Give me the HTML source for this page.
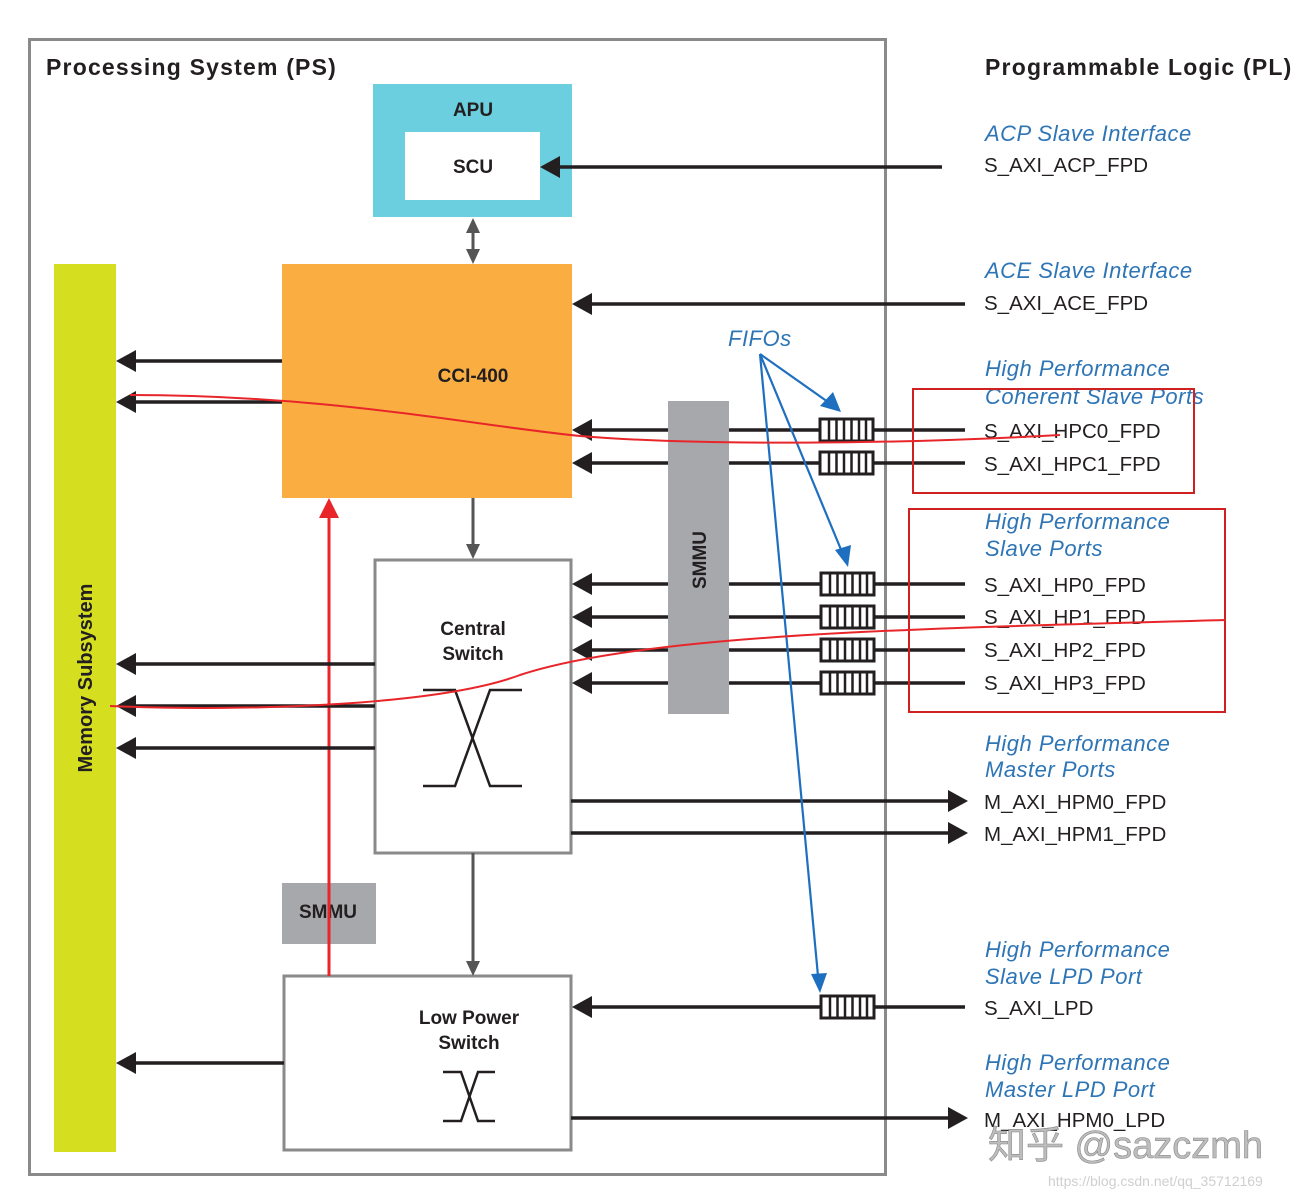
<!DOCTYPE html>
<html><head><meta charset="utf-8"><style>
html,body{margin:0;padding:0;background:#fff;}
svg{display:block;}
text{font-family:"Liberation Sans",Arial,sans-serif;}
.b{font-weight:bold;fill:#231f20;}
.t{font-weight:bold;fill:#231f20;font-size:23px;letter-spacing:1.2px;}
.bl{font-style:italic;fill:#2e75b6;font-size:22px;letter-spacing:0.5px;}
.k{fill:#231f20;font-size:20.5px;}
</style></head><body>
<svg width="1301" height="1198" viewBox="0 0 1301 1198" xmlns="http://www.w3.org/2000/svg">
<defs>
<g id="fifo">
<rect x="0" y="-11" width="53" height="22" fill="#fff" stroke="#231f20" stroke-width="3"/>
<g stroke="#231f20" stroke-width="2.5"><line x1="9" y1="-11" x2="9" y2="11"/><line x1="16.5" y1="-11" x2="16.5" y2="11"/><line x1="24" y1="-11" x2="24" y2="11"/><line x1="31.5" y1="-11" x2="31.5" y2="11"/><line x1="39" y1="-11" x2="39" y2="11"/><line x1="46" y1="-11" x2="46" y2="11"/></g>
</g>
<g id="al"><polygon points="0,0 20,-11 20,11" fill="#231f20"/></g>
<g id="ar"><polygon points="0,0 -20,-11 -20,11" fill="#231f20"/></g>
</defs>
<rect x="29.5" y="39.5" width="856" height="1135" fill="#fff" stroke="#8a8a8a" stroke-width="3"/>
<text x="46" y="75" class="t">Processing System (PS)</text>
<text x="985" y="75" class="t">Programmable Logic (PL)</text>

<rect x="373" y="84" width="199" height="133" fill="#6ccfdf"/>
<text x="473" y="116" class="b" font-size="19" text-anchor="middle">APU</text>
<rect x="405" y="132" width="135" height="68" fill="#fff"/>
<text x="473" y="173" class="b" font-size="19" text-anchor="middle">SCU</text>

<rect x="54" y="264" width="62" height="888" fill="#d5df1f"/>
<text transform="translate(92,678) rotate(-90)" class="b" font-size="20" text-anchor="middle">Memory Subsystem</text>

<rect x="282" y="264" width="290" height="234" fill="#faae42"/>
<text x="473" y="382" class="b" font-size="19" text-anchor="middle">CCI-400</text>

<line x1="473" y1="232" x2="473" y2="250" stroke="#555" stroke-width="3"/>
<polygon points="473,218 466,233 480,233" fill="#555"/>
<polygon points="473,264 466,249 480,249" fill="#555"/>

<rect x="668" y="401" width="61" height="313" fill="#a7a8ab"/>
<text transform="translate(706,560) rotate(-90)" class="b" font-size="19" text-anchor="middle">SMMU</text>

<rect x="375" y="560" width="196" height="293" fill="#fff" stroke="#8a8a8a" stroke-width="3"/>
<text x="473" y="635" class="b" font-size="19" text-anchor="middle">Central</text>
<text x="473" y="660" class="b" font-size="19" text-anchor="middle">Switch</text>
<g stroke="#231f20" stroke-width="2.5" fill="none">
<polyline points="423,690 455,690 490,786 522,786"/>
<polyline points="423,786 455,786 490,690 522,690"/>
</g>

<rect x="284" y="976" width="287" height="174" fill="#fff" stroke="#8a8a8a" stroke-width="3"/>
<text x="469" y="1024" class="b" font-size="19" text-anchor="middle">Low Power</text>
<text x="469" y="1049" class="b" font-size="19" text-anchor="middle">Switch</text>
<g stroke="#231f20" stroke-width="2.5" fill="none">
<polyline points="443,1072 461,1072 478,1121 495,1121"/>
<polyline points="443,1121 461,1121 478,1072 495,1072"/>
</g>

<rect x="282" y="883" width="94" height="61" fill="#a7a8ab"/>
<text x="328" y="918" class="b" font-size="19" text-anchor="middle">SMMU</text>

<line x1="473" y1="498" x2="473" y2="545" stroke="#555" stroke-width="3"/>
<polygon points="473,559 466,544 480,544" fill="#555"/>
<line x1="473" y1="853" x2="473" y2="962" stroke="#555" stroke-width="3"/>
<polygon points="473,976 466,961 480,961" fill="#555"/>

<line x1="329" y1="976" x2="329" y2="515" stroke="#e8262a" stroke-width="3"/>
<polygon points="329,498 319,518 339,518" fill="#e8262a"/>

<g stroke="#231f20" stroke-width="3.5">
<line x1="555" y1="167" x2="942" y2="167"/>
<line x1="590" y1="304" x2="965" y2="304"/>
<line x1="590" y1="430" x2="668" y2="430"/><line x1="729" y1="430" x2="965" y2="430"/>
<line x1="590" y1="463" x2="668" y2="463"/><line x1="729" y1="463" x2="965" y2="463"/>
<line x1="590" y1="584" x2="668" y2="584"/><line x1="729" y1="584" x2="965" y2="584"/>
<line x1="590" y1="617" x2="668" y2="617"/><line x1="729" y1="617" x2="965" y2="617"/>
<line x1="590" y1="650" x2="668" y2="650"/><line x1="729" y1="650" x2="965" y2="650"/>
<line x1="590" y1="683" x2="668" y2="683"/><line x1="729" y1="683" x2="965" y2="683"/>
<line x1="571" y1="801" x2="950" y2="801"/>
<line x1="571" y1="833" x2="950" y2="833"/>
<line x1="590" y1="1007" x2="965" y2="1007"/>
<line x1="571" y1="1118" x2="950" y2="1118"/>
<line x1="134" y1="361" x2="282" y2="361"/>
<line x1="134" y1="402" x2="282" y2="402"/>
<line x1="134" y1="664" x2="375" y2="664"/>
<line x1="134" y1="706" x2="375" y2="706"/>
<line x1="134" y1="748" x2="375" y2="748"/>
<line x1="134" y1="1063" x2="284" y2="1063"/>
</g>
<use href="#al" x="540" y="167"/>
<use href="#al" x="572" y="304"/>
<use href="#al" x="572" y="430"/><use href="#al" x="572" y="463"/>
<use href="#al" x="572" y="584"/><use href="#al" x="572" y="617"/><use href="#al" x="572" y="650"/><use href="#al" x="572" y="683"/>
<use href="#al" x="572" y="1007"/>
<use href="#al" x="116" y="361"/><use href="#al" x="116" y="402"/>
<use href="#al" x="116" y="664"/><use href="#al" x="116" y="706"/><use href="#al" x="116" y="748"/>
<use href="#al" x="116" y="1063"/>
<use href="#ar" x="968" y="801"/><use href="#ar" x="968" y="833"/><use href="#ar" x="968" y="1118"/>

<use href="#fifo" x="820" y="430"/><use href="#fifo" x="820" y="463"/>
<use href="#fifo" x="821" y="584"/><use href="#fifo" x="821" y="617"/><use href="#fifo" x="821" y="650"/><use href="#fifo" x="821" y="683"/>
<use href="#fifo" x="821" y="1007"/>

<text x="728" y="346" class="bl">FIFOs</text>
<g stroke="#1f6fc0" stroke-width="2.2" fill="none">
<line x1="760" y1="354" x2="828" y2="402"/>
<line x1="760" y1="354" x2="842" y2="552"/>
<line x1="760" y1="354" x2="818" y2="976"/>
</g>
<polygon points="841,412 820,406 833,392" fill="#1f6fc0"/>
<polygon points="848,567 835,550 851,545" fill="#1f6fc0"/>
<polygon points="820,993 811,974 827,973" fill="#1f6fc0"/>

<text x="985" y="141" class="bl">ACP Slave Interface</text>
<text x="984" y="172" class="k">S_AXI_ACP_FPD</text>
<text x="985" y="278" class="bl">ACE Slave Interface</text>
<text x="984" y="310" class="k">S_AXI_ACE_FPD</text>
<text x="985" y="376" class="bl">High Performance</text>
<text x="985" y="404" class="bl">Coherent Slave Ports</text>
<text x="984" y="438" class="k">S_AXI_HPC0_FPD</text>
<text x="984" y="471" class="k">S_AXI_HPC1_FPD</text>
<text x="985" y="529" class="bl">High Performance</text>
<text x="985" y="556" class="bl">Slave Ports</text>
<text x="984" y="592" class="k">S_AXI_HP0_FPD</text>
<text x="984" y="624" class="k">S_AXI_HP1_FPD</text>
<text x="984" y="657" class="k">S_AXI_HP2_FPD</text>
<text x="984" y="690" class="k">S_AXI_HP3_FPD</text>
<text x="985" y="751" class="bl">High Performance</text>
<text x="985" y="777" class="bl">Master Ports</text>
<text x="984" y="809" class="k">M_AXI_HPM0_FPD</text>
<text x="984" y="841" class="k">M_AXI_HPM1_FPD</text>
<text x="985" y="957" class="bl">High Performance</text>
<text x="985" y="984" class="bl">Slave LPD Port</text>
<text x="984" y="1015" class="k">S_AXI_LPD</text>
<text x="985" y="1070" class="bl">High Performance</text>
<text x="985" y="1097" class="bl">Master LPD Port</text>
<text x="984" y="1127" class="k">M_AXI_HPM0_LPD</text>

<rect x="913" y="389" width="281" height="104" fill="none" stroke="#d0201f" stroke-width="2"/>
<rect x="909" y="509" width="316" height="203" fill="none" stroke="#d0201f" stroke-width="2"/>
<path d="M1060,435 C900,444 700,446 580,436 C470,425 330,395 130,395" fill="none" stroke="#e8262a" stroke-width="2"/>
<path d="M1225,620 C950,628 650,632 520,675 C440,705 250,712 110,706" fill="none" stroke="#e8262a" stroke-width="2"/>

<text x="988" y="1158" font-size="38" fill="#bdbdbd" stroke="#888" stroke-width="0.6" style="font-family:'Liberation Sans','Noto Sans CJK SC',sans-serif">知乎 @sazczmh</text>
<text x="1048" y="1186" font-size="14" fill="#cfcfcf">https://blog.csdn.net/qq_35712169</text>
</svg>
</body></html>
